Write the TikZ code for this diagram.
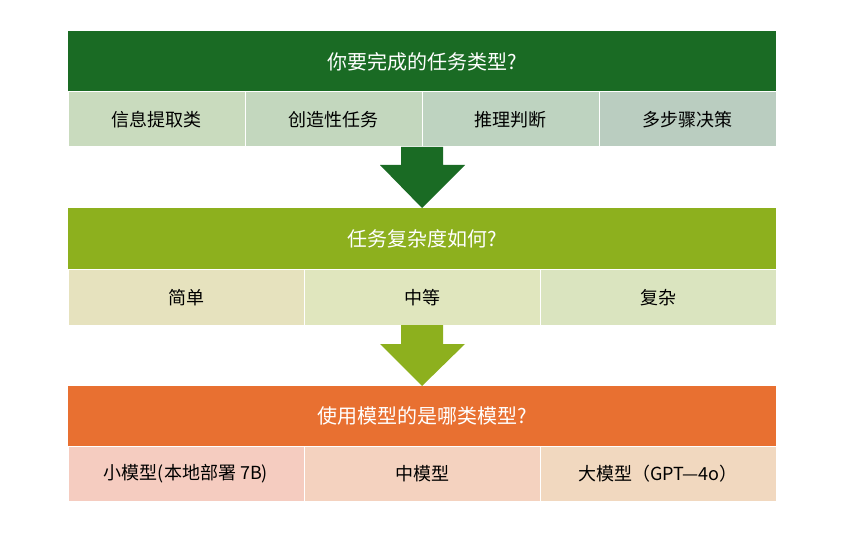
\documentclass[tikz,border=0pt]{standalone}
\usepackage{fontspec}
\setmainfont{Noto Sans CJK SC}
\definecolor{dg}{HTML}{1A6B24}
\definecolor{lg}{HTML}{8DB01E}
\definecolor{og}{HTML}{E87031}
\definecolor{a1}{HTML}{C9DBBE}
\definecolor{a2}{HTML}{C3D7BE}
\definecolor{a3}{HTML}{BED3C0}
\definecolor{a4}{HTML}{BACDC0}
\definecolor{b1}{HTML}{E6E2BE}
\definecolor{b2}{HTML}{E0E6BE}
\definecolor{b3}{HTML}{DAE4BF}
\definecolor{c1}{HTML}{F5CCC0}
\definecolor{c2}{HTML}{F4D2BF}
\definecolor{c3}{HTML}{F1D8BF}
\tikzset{hdr/.style={inner sep=0pt,minimum height=61pt,text=white,font=\fontsize{20}{24}\selectfont},
cell/.style={inner sep=0pt,draw=white,line width=1pt,minimum height=55pt,font=\fontsize{18}{22}\selectfont}}
\begin{document}
\begin{tikzpicture}[x=1pt,y=-1pt]
\useasboundingbox (0,0) rectangle (865,540);
% level 1
\node[hdr,fill=dg,minimum width=708pt] (h1) at (422,61.5) {你要完成的任务类型?};
\node[cell,fill=a1,minimum width=177pt] (t1) at (156.5,119.5) {信息提取类};
\node[cell,fill=a2,minimum width=177pt] (t2) at (333.5,119.5) {创造性任务};
\node[cell,fill=a3,minimum width=177pt] (t3) at (510.5,119.5) {推理判断};
\node[cell,fill=a4,minimum width=177pt] (t4) at (687.5,119.5) {多步骤决策};
\fill[dg] (401,147) -- (443,147) -- (443,165) -- (465,165) -- (422,208) -- (380,165) -- (401,165) -- cycle;
% level 2
\node[hdr,fill=lg,minimum width=708pt] (h2) at (422,239) {任务复杂度如何?};
\node[cell,fill=b1,minimum width=236pt] (m1) at (186,297.5) {简单};
\node[cell,fill=b2,minimum width=236pt] (m2) at (422,297.5) {中等};
\node[cell,fill=b3,minimum width=236pt] (m3) at (658,297.5) {复杂};
\fill[lg] (401,325) -- (443,325) -- (443,344) -- (465,344) -- (422,386) -- (380,344) -- (401,344) -- cycle;
% level 3
\node[hdr,fill=og,minimum width=708pt] (h3) at (422,416) {使用模型的是哪类模型?};
\node[cell,fill=c1,minimum width=236pt] (s1) at (186,474) {小模型(本地部署 7B)};
\node[cell,fill=c2,minimum width=236pt] (s2) at (422,474) {中模型};
\node[cell,fill=c3,minimum width=236pt] (s3) at (658,474) {大模型（GPT—4o）};
\end{tikzpicture}
\end{document}
